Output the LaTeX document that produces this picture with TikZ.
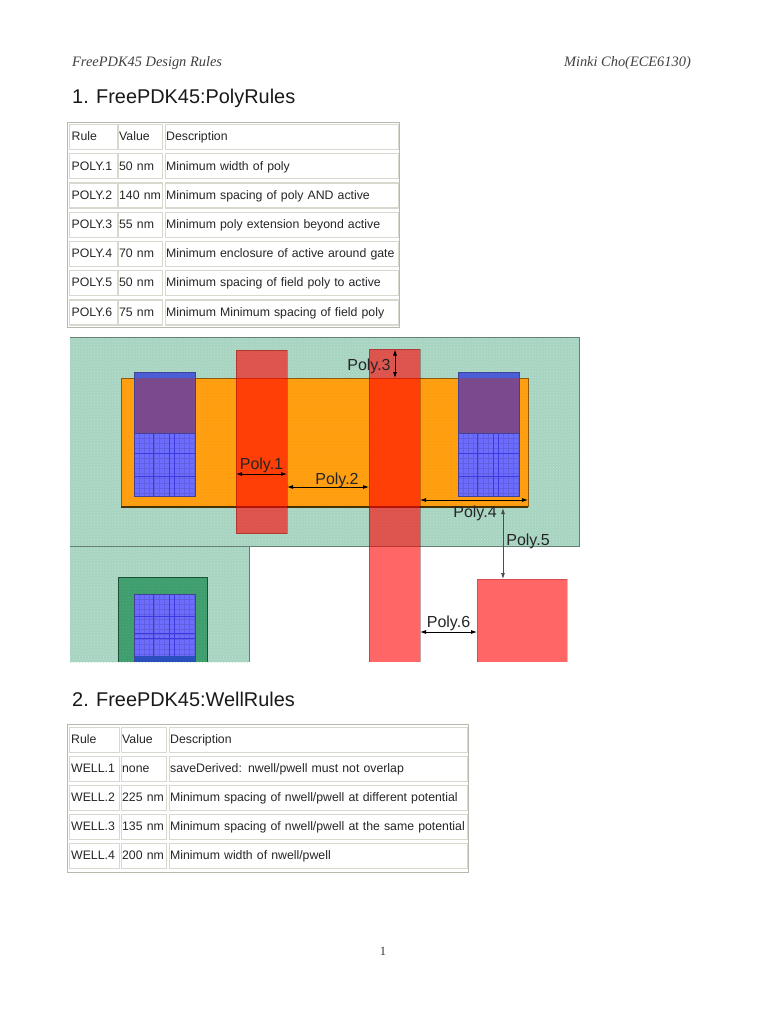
\documentclass[tikz,border=0pt]{standalone}
\usepackage{fontspec}
\setmainfont{Liberation Sans}
\newfontfamily\serifhead{Liberation Serif}
\usetikzlibrary{patterns,arrows.meta}

\definecolor{fieldgreen}{HTML}{A6D4C1}
\definecolor{activeorange}{HTML}{FF9F12}
\definecolor{wellgreen}{HTML}{3F9E6E}
\definecolor{contactblue}{HTML}{6C6CFF}
\definecolor{contactline}{HTML}{3A3AE0}
\definecolor{overlappurple}{HTML}{7B4A8E}
\definecolor{stripblue}{HTML}{4A5FD6}
\definecolor{welledgeblue}{HTML}{2B4FBF}
\definecolor{cellline}{HTML}{D8D8CE}

\tikzset{
  cellbox/.style={draw=cellline,line width=1.3pt,fill=white,anchor=north west,inner sep=0pt,
    minimum height=25pt,text height=9.5pt,text depth=2pt,align=left,font=\fontsize{12.3}{14}\selectfont,text=black!85},
  framebox/.style={draw=cellline!85!black,line width=.8pt},
  dimarrow/.style={{Latex[length=6pt,width=4pt]}-{Latex[length=6pt,width=4pt]},line width=.8pt},
  dimlabel/.style={font=\fontsize{16}{18}\selectfont,text=black!85,inner sep=0pt},
  headline/.style={font=\fontsize{19.9}{24}\selectfont,anchor=base west,inner sep=0pt,text=black!90},
  pagetext/.style={font=\serifhead\itshape\fontsize{14.4}{16}\selectfont,inner sep=0pt,text=black!75},
  layeredge/.style={draw=black!40!fieldgreen,line width=.7pt},
  finegrid/.style={draw=contactblue!88!black,line width=.25pt},
  maingrid/.style={draw=contactline,line width=.7pt}
}

\begin{document}
\begin{tikzpicture}[x=1pt,y=-1pt]
  \useasboundingbox[fill=white] (0,0) rectangle (768,1024);

  \node[pagetext,anchor=base west] (doctitle) at (72,67) {FreePDK45 Design Rules};
  \node[pagetext,anchor=base east] (docauthor) at (691,67) {Minki Cho(ECE6130)};
  \node[headline] (polyhead) at (72,103.5) {1. FreePDK45:PolyRules};
  \node[headline] (wellhead) at (72,706.5) {2. FreePDK45:WellRules};

  % poly table
  \draw[framebox] (67,122) rectangle (399,327);
  \foreach \i/\rulename/\val/\txt in {
    0/Rule/Value/Description,
    1/POLY.1/50 nm/Minimum width of poly,
    2/POLY.2/140 nm/Minimum spacing of poly AND active,
    3/POLY.3/55 nm/Minimum poly extension beyond active,
    4/POLY.4/70 nm/Minimum enclosure of active around gate,
    5/POLY.5/50 nm/Minimum spacing of field poly to active,
    6/POLY.6/75 nm/Minimum Minimum spacing of field poly}
  {
    \node[cellbox,minimum width=45pt,text width=43pt,inner xsep=2.5pt] (pa\i) at (68.5,124+29.2*\i) {\rulename};
    \node[cellbox,minimum width=43pt,text width=42pt,inner xsep=1pt] (pb\i) at (117.5,124+29.2*\i) {\val};
    \node[cellbox,minimum width=232pt,text width=231pt,inner xsep=1pt] (pc\i) at (164.5,124+29.2*\i) {\txt};
  }

  % layout
  \fill[fieldgreen] (70,337) rectangle (579,546);
  \fill[fieldgreen] (70,546) rectangle (249,662);
  \fill[pattern=crosshatch dots,pattern color=white!30!fieldgreen] (70,337) rectangle (579,546);
  \fill[pattern=crosshatch dots,pattern color=white!30!fieldgreen] (70,546) rectangle (249,662);
  \draw[layeredge] (579,337) -- (70,337);
  \draw[layeredge] (579,337) -- (579,546) -- (70,546);
  \draw[layeredge] (249,546) -- (249,662);

  \fill[activeorange] (121,378) rectangle (528,507);
  \fill[pattern=dots,pattern color=orange!85!yellow] (121,378) rectangle (528,507);
  \draw[black!45!activeorange,line width=.8pt] (121,507) -- (121,378) -- (528,378) -- (528,507);
  \draw[black!70!activeorange,line width=1.1pt] (121,507) -- (528,507);

  % contacts on the active area
  \foreach \cx in {134,458}
  {
    \fill[contactblue] (\cx,433) rectangle (\cx+61,496);
    \foreach \n in {5,10,...,60}
      \draw[finegrid] (\cx+\n,433) -- (\cx+\n,496);
    \foreach \n in {438,443,...,493}
      \draw[finegrid] (\cx,\n) -- (\cx+61,\n);
    \foreach \n in {19,35,40}
      \draw[maingrid] (\cx+\n,433) -- (\cx+\n,496);
    \foreach \n in {453,476}
      \draw[maingrid] (\cx,\n) -- (\cx+61,\n);
    \fill[stripblue] (\cx,372.5) rectangle (\cx+61,378);
    \fill[overlappurple] (\cx,378) rectangle (\cx+61,433);
    \draw[black!40!contactblue,line width=.8pt] (\cx,372.5) rectangle (\cx+61,496);
    \draw[black!40!contactblue,line width=.6pt] (\cx,433) -- (\cx+61,433);
  }

  % contact on the well
  \fill[wellgreen] (118,577) rectangle (207,662);
  \fill[pattern=dots,pattern color=wellgreen!80!white] (118,577) rectangle (207,662);
  \draw[black!50!wellgreen,line width=.8pt] (118,662) -- (118,577) -- (207,577) -- (207,662);
  \fill[contactblue] (134,594) rectangle (195,662);
  \foreach \n in {5,10,...,60}
    \draw[finegrid] (134+\n,594) -- (134+\n,656);
  \foreach \n in {599,604,...,654}
    \draw[finegrid] (134,\n) -- (195,\n);
  \foreach \n in {19,35,40}
    \draw[maingrid] (134+\n,594) -- (134+\n,656);
  \foreach \n in {616,633,638}
    \draw[maingrid] (134,\n) -- (195,\n);
  \fill[welledgeblue] (134,655.5) rectangle (195,662);
  \draw[black!40!contactblue,line width=.8pt] (134,662) -- (134,594) -- (195,594) -- (195,662);

  % poly shapes
  \fill[red,fill opacity=.6] (236,350) rectangle (287,533.5);
  \fill[red,fill opacity=.6] (369,349) rectangle (420,662);
  \fill[red,fill opacity=.6] (477,579) rectangle (567,662);
  \draw[red!40!black,draw opacity=.35,line width=.7pt] (236,350) rectangle (287,533.5);
  \draw[red!40!black,draw opacity=.35,line width=.7pt] (369,662) -- (369,349) -- (420,349) -- (420,662);
  \draw[red!40!black,draw opacity=.25,line width=.7pt] (477,662) -- (477,579) -- (567,579) -- (567,662);

  % dimension ends
  \coordinate (d1a) at (236,474);
  \coordinate (d1b) at (287,474);
  \coordinate (d2a) at (287,487);
  \coordinate (d2b) at (369,487);
  \coordinate (d3a) at (395,349.5);
  \coordinate (d3b) at (395,378);
  \coordinate (d4a) at (420,500);
  \coordinate (d4b) at (528,500);
  \coordinate (d5a) at (503,508);
  \coordinate (d5b) at (503,579);
  \coordinate (d6a) at (420,632);
  \coordinate (d6b) at (477,632);

  \foreach \from/\to in {d1a/d1b,d2a/d2b,d3a/d3b,d4a/d4b,d6a/d6b}
    \draw[dimarrow] (\from) -- (\to);
  \draw[dimarrow,black!70] (d5a) -- (d5b);

  \node[dimlabel] (poly1) at (261.5,465) {Poly.1};
  \node[dimlabel] (poly2) at (337,480.5) {Poly.2};
  \node[dimlabel] (poly3) at (369,366) {Poly.3};
  \node[dimlabel] (poly4) at (475,513.5) {Poly.4};
  \node[dimlabel] (poly5) at (528,541) {Poly.5};
  \node[dimlabel] (poly6) at (448.5,623) {Poly.6};

  % well table
  \draw[framebox] (67,724) rectangle (468,872);
  \foreach \i/\rulename/\val/\txt in {
    0/Rule/Value/Description,
    1/WELL.1/none/saveDerived: nwell\slash pwell must not overlap,
    2/WELL.2/225 nm/Minimum spacing of nwell\slash pwell at different potential,
    3/WELL.3/135 nm/Minimum spacing of nwell\slash pwell at the same potential,
    4/WELL.4/200 nm/Minimum width of nwell\slash pwell}
  {
    \node[cellbox,minimum width=48pt,text width=47pt,inner xsep=1.5pt] (wa\i) at (69,726.5+29*\i) {\rulename};
    \node[cellbox,minimum width=44pt,text width=43pt,inner xsep=1pt] (wb\i) at (120.5,726.5+29*\i) {\val};
    \node[cellbox,minimum width=297pt,text width=296pt,inner xsep=1pt] (wc\i) at (168.5,726.5+29*\i) {\txt};
  }

  \node[inner sep=0pt,font=\serifhead\fontsize{12.5}{14}\selectfont,text=black!80] (pagenum) at (383,951) {1};
\end{tikzpicture}
\end{document}
